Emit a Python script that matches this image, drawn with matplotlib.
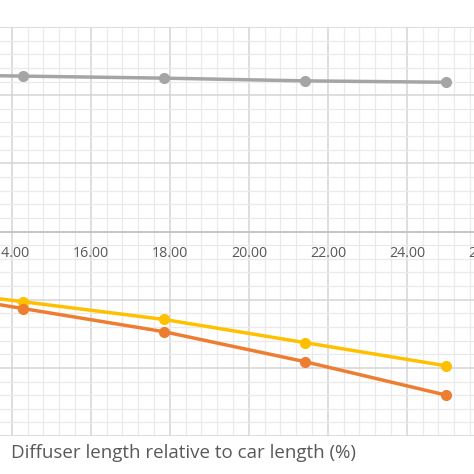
"""Diffuser length sweep chart (cropped Excel-style view)."""

import matplotlib

matplotlib.use("Agg")
import matplotlib.pyplot as plt
from matplotlib.ticker import MultipleLocator

# Diffuser length relative to car length (%)
diffuser_pct = [10.71, 14.29, 17.86, 21.43, 25.00]

# series values (y axis is cropped off in the source, units unknown)
grey_series = [2.31, 2.28, 2.25, 2.21, 2.19]
yellow_series = [-0.77, -1.03, -1.29, -1.63, -1.97]
orange_series = [-0.79, -1.13, -1.47, -1.91, -2.40]

x_tick_values = [14, 16, 18, 20, 22, 24, 26]
x_tick_labels = ["14.00", "16.00", "18.00", "20.00", "22.00", "24.00", "26.00"]

x_title = "Diffuser length relative to car length (%)"

TEXT = "#595959"

fig = plt.figure(figsize=(4.74, 4.74), dpi=100)
ax = fig.add_axes([0.0, 0.080, 1.0, 0.863])

ax.plot(diffuser_pct, grey_series, color="#A5A5A5", lw=2.5, marker="o", ms=7, zorder=3)
ax.plot(diffuser_pct, yellow_series, color="#FFC000", lw=2.5, marker="o", ms=7, zorder=3)
ax.plot(diffuser_pct, orange_series, color="#ED7D31", lw=2.5, marker="o", ms=7, zorder=3)

ax.set_xlim(13.70, 25.70)
ax.set_ylim(-3, 3)

ax.xaxis.set_major_locator(MultipleLocator(2))
ax.xaxis.set_minor_locator(MultipleLocator(0.4))
ax.yaxis.set_major_locator(MultipleLocator(1))
ax.yaxis.set_minor_locator(MultipleLocator(0.2))
ax.grid(True, which="major", color="#D4D4D4", lw=1.1, zorder=0)
ax.grid(True, which="minor", color="#EAEAEA", lw=0.9, zorder=0)

for side in ("left", "right", "top"):
    ax.spines[side].set_visible(False)
ax.spines["bottom"].set_position(("data", 0))
ax.spines["bottom"].set_color("#BFBFBF")
ax.spines["bottom"].set_linewidth(1.1)
ax.tick_params(which="both", length=0, labelbottom=False, labelleft=False)

# tick labels sit just under the axis line; the outer ones are cut by the crop
for xv, lab in zip(x_tick_values, x_tick_labels):
    ax.annotate(lab, xy=(xv, 0), xytext=(0, -16), textcoords="offset points",
                ha="center", va="center", fontsize=10.3, color=TEXT,
                family="Open Sans", annotation_clip=False)

fig.text(0.388, 0.044, x_title, ha="center", va="center",
         fontsize=13.5, color=TEXT, family="Open Sans")

fig.savefig("out.png", dpi=100, facecolor="white")
plt.close(fig)
